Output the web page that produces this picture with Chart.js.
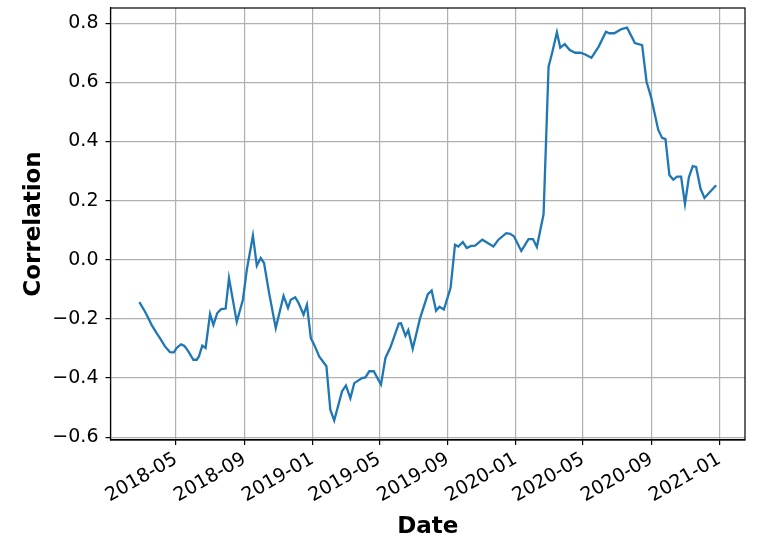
<!DOCTYPE html>
<html><head><meta charset="utf-8">
<script src="https://cdn.jsdelivr.net/npm/chart.js@4/dist/chart.umd.min.js"></script>
<style>html,body{margin:0;padding:0;background:#fff}#wrap{width:768px;height:544px}</style>
</head><body><div id="wrap"><canvas id="c" width="768" height="544"></canvas></div>
<script>
const dates = [
 '2018-02-24','2018-03-06','2018-03-10','2018-03-18','2018-03-27','2018-04-02','2018-04-11','2018-04-20','2018-04-27',
 '2018-05-02','2018-05-10','2018-05-16','2018-05-23','2018-06-01','2018-06-07','2018-06-11','2018-06-17','2018-06-23',
 '2018-07-01','2018-07-07','2018-07-14','2018-07-21','2018-07-29','2018-08-04','2018-08-18','2018-08-29',
 '2018-09-05','2018-09-16','2018-09-23','2018-09-30','2018-10-06','2018-10-15','2018-10-27',
 '2018-11-10','2018-11-18','2018-11-23','2018-12-01','2018-12-07','2018-12-16','2018-12-22','2018-12-29',
 '2019-01-04','2019-01-13','2019-01-26','2019-02-02','2019-02-09','2019-02-23','2019-03-02','2019-03-10','2019-03-17','2019-03-31',
 '2019-04-06','2019-04-13','2019-04-21','2019-05-04','2019-05-12','2019-05-21','2019-06-05','2019-06-09','2019-06-17','2019-06-22','2019-06-30',
 '2019-07-13','2019-07-27','2019-08-03','2019-08-11','2019-08-17','2019-08-25','2019-09-06','2019-09-14','2019-09-20','2019-09-28',
 '2019-10-05','2019-10-13','2019-10-20','2019-11-02','2019-11-22','2019-12-01','2019-12-15','2019-12-22','2019-12-29',
 '2020-01-11','2020-01-18','2020-01-24','2020-02-01','2020-02-08','2020-02-20','2020-02-29','2020-03-07','2020-03-15','2020-03-21','2020-03-29',
 '2020-04-07','2020-04-17','2020-04-26','2020-05-04','2020-05-16','2020-05-29','2020-06-11','2020-06-17','2020-06-26',
 '2020-07-09','2020-07-19','2020-08-02','2020-08-15','2020-08-23','2020-08-31','2020-09-13','2020-09-20','2020-09-26',
 '2020-10-03','2020-10-10','2020-10-17','2020-10-24','2020-10-31','2020-11-07','2020-11-14','2020-11-20','2020-11-28',
 '2020-12-05','2020-12-16','2020-12-26'
];
const correlation = [
 -0.143,-0.175,-0.189,-0.220,-0.248,-0.265,-0.293,-0.312,-0.313,
 -0.298,-0.286,-0.291,-0.310,-0.338,-0.338,-0.327,-0.290,-0.298,
 -0.183,-0.220,-0.180,-0.167,-0.165,-0.062,-0.210,-0.135,
 -0.034,0.082,-0.020,0.006,-0.011,-0.112,-0.231,
 -0.122,-0.163,-0.135,-0.127,-0.146,-0.186,-0.152,-0.265,
 -0.287,-0.327,-0.360,-0.507,-0.543,-0.445,-0.425,-0.468,-0.417,-0.400,
 -0.398,-0.377,-0.377,-0.422,-0.332,-0.296,-0.216,-0.215,-0.257,-0.238,-0.301,
 -0.199,-0.117,-0.104,-0.172,-0.159,-0.168,-0.095,0.051,0.045,0.060,
 0.040,0.047,0.048,0.068,0.045,0.068,0.090,0.088,0.079,
 0.030,0.051,0.070,0.070,0.043,0.154,0.653,0.704,0.769,0.717,0.729,
 0.709,0.700,0.700,0.695,0.683,0.721,0.771,0.766,0.766,
 0.780,0.785,0.733,0.726,0.602,0.551,0.439,0.412,0.408,
 0.287,0.271,0.281,0.281,0.189,0.279,0.317,0.314,0.240,
 0.209,0.232,0.252
];
const xTickLabels = ['2018-05','2018-09','2019-01','2019-05','2019-09','2020-01','2020-05','2020-09','2021-01'];
const yTickValues = [-0.6,-0.4,-0.2,0.0,0.2,0.4,0.6,0.8];

const xs = dates.map(d => Date.parse(d));
const xTickVals = xTickLabels.map(s => Date.parse(s + '-01'));
const points = xs.map((x, i) => ({x: x, y: correlation[i]}));
const xMinD = Math.min(...xs), xMaxD = Math.max(...xs);
const yMinD = Math.min(...correlation), yMaxD = Math.max(...correlation);
const xm = (xMaxD - xMinD) * 0.05, ym = (yMaxD - yMinD) * 0.05;

const frame = {
  id: 'frame',
  afterDatasetsDraw(chart) {
    const a = chart.chartArea, ctx = chart.ctx;
    ctx.save();
    ctx.strokeStyle = '#000';
    ctx.lineWidth = 1.2;
    ctx.strokeRect(a.left, a.top, a.right - a.left, a.bottom - a.top);
    ctx.restore();
  }
};

const FONT = 'DejaVu Sans';
new Chart(document.getElementById('c'), {
  type: 'line',
  data: { datasets: [{
    data: points, borderColor: '#1f77b4', borderWidth: 2.3, pointRadius: 0,
    tension: 0, fill: false
  }]},
  options: {
    responsive: false, animation: false, events: [],
    layout: { padding: { left: 0, right: 23, top: 8, bottom: 0 } },
    plugins: { legend: { display: false }, tooltip: { enabled: false } },
    scales: {
      x: {
        type: 'linear', min: xMinD - xm, max: xMaxD + xm,
        afterBuildTicks(s) { s.ticks = xTickVals.map(v => ({value: v})); },
        afterFit(s) { s.height = 104; s.paddingLeft = 0; s.paddingRight = 0; },
        ticks: {
          autoSkip: false, maxRotation: 30, minRotation: 30, padding: 3,
          color: '#000', font: { family: FONT, size: 19 },
          callback(v) { const i = xTickVals.indexOf(v); return i >= 0 ? xTickLabels[i] : ''; }
        },
        grid: { color: '#b0b0b0', lineWidth: 1.2, tickLength: 5, tickColor: '#000', tickWidth: 1.2 },
        border: { display: true, color: '#000', width: 1.2 },
        title: { display: true, text: 'Date', color: '#000', padding: { top: 0, bottom: 3 },
                 font: { family: FONT, size: 23, weight: 'bold' } }
      },
      y: {
        type: 'linear', min: yMinD - ym, max: yMaxD + ym,
        afterBuildTicks(s) { s.ticks = yTickValues.map(v => ({value: v})); },
        afterFit(s) { s.width = 110.5; s.paddingTop = 0; s.paddingBottom = 0; },
        ticks: {
          padding: 7, color: '#000', font: { family: FONT, size: 19 },
          callback(v) { const t = v.toFixed(1); return v < -1e-9 ? '\u2212' + t.slice(1) : (Math.abs(v) < 1e-9 ? '0.0' : t); }
        },
        grid: { color: '#b0b0b0', lineWidth: 1.2, tickLength: 5, tickColor: '#000', tickWidth: 1.2 },
        border: { display: true, color: '#000', width: 1.2 },
        title: { display: true, text: 'Correlation', color: '#000', padding: { top: 20, bottom: 0 },
                 font: { family: FONT, size: 23, weight: 'bold' } }
      }
    }
  },
  plugins: [frame]
});
</script></body></html>
